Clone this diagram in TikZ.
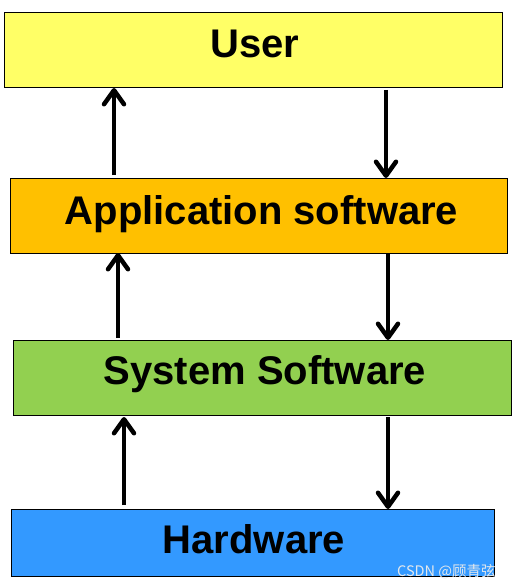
\documentclass[tikz,border=0pt]{standalone}
\usepackage{fontspec}
\setmainfont{Liberation Sans}
\newfontfamily\cjk{Noto Sans CJK SC}
\usetikzlibrary{arrows.meta}
\definecolor{cuser}{HTML}{FFFF66}
\definecolor{capp}{HTML}{FFC000}
\definecolor{csys}{HTML}{92D050}
\definecolor{chw}{HTML}{3399FF}
\definecolor{cmark}{HTML}{E4E8EC}
\tikzset{
  layerbox/.style={draw=black, line width=1pt, inner sep=0pt, outer sep=0pt},
  layertext/.style={anchor=base, inner sep=0pt, font=\fontsize{40}{40}\selectfont\bfseries},
  arr/.style={line width=4.5pt, -{Straight Barb[length=14pt,width=20pt,round]}},
}
\begin{document}
\begin{tikzpicture}[x=1pt,y=-1pt]
\useasboundingbox (0,0) rectangle (514,588);
% boxes
\node[layerbox, fill=cuser, minimum width=498pt, minimum height=75pt] (user) at (253,50.5) {};
\node[layerbox, fill=capp, minimum width=497pt, minimum height=75pt] (app) at (258.5,215.5) {};
\node[layerbox, fill=csys, minimum width=498pt, minimum height=75pt] (sys) at (262,377.5) {};
\node[layerbox, fill=chw, minimum width=483pt, minimum height=67pt] (hw) at (252.5,542.5) {};
% texts
\node[layertext] (tuser) at (255,58) {User};
\node[layertext] (tapp) at (261.5,224) {Application software};
\node[layertext] (tsys) at (265,384) {System Software};
\node[layertext] (thw) at (254,553) {Hardware};
% arrows
\coordinate (u1) at (114,175);
\coordinate (u2) at (118,338);
\coordinate (u3) at (124,505);
\draw[arr] (u1) -- (user.south -| u1);
\draw[arr] (u2) -- (app.south -| u2);
\draw[arr] (u3) -- ([yshift=-2pt]sys.south -| u3);
\coordinate (d1) at (386,90);
\coordinate (d2) at (388,254);
\coordinate (d3) at (388,417);
\draw[arr] (d1) -- (app.north -| d1);
\draw[arr] (d2) -- (sys.north -| d2);
\draw[arr] (d3) -- (hw.north -| d3);
% watermark
\node[anchor=base west, inner sep=0pt, text=cmark, font=\cjk\fontsize{14.5}{14.5}\selectfont] (wm) at (397,576) {CSDN @顾青弦};
\end{tikzpicture}
\end{document}
